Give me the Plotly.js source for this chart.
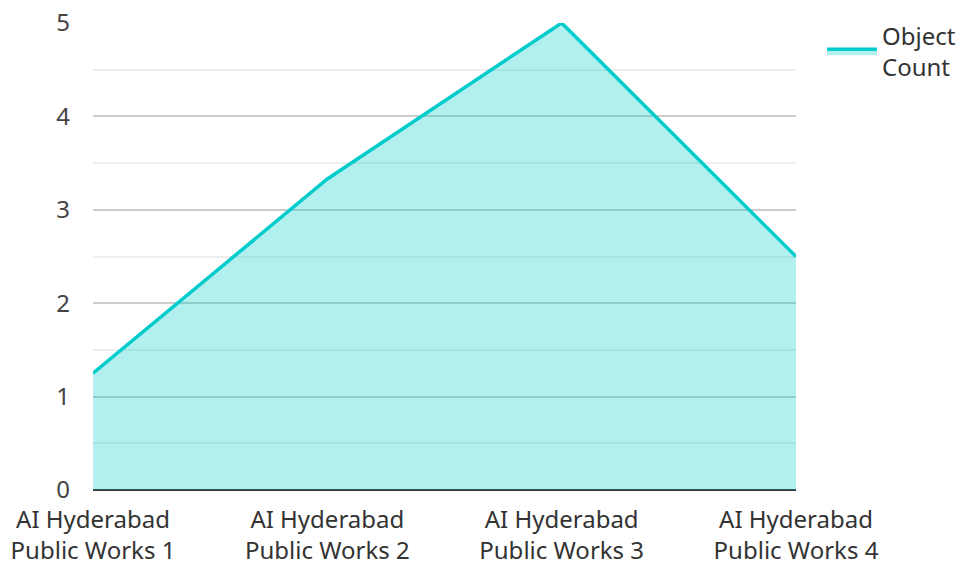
<!DOCTYPE html>
<html><head><meta charset="utf-8">
<script src="https://cdn.plot.ly/plotly-3.0.1.min.js"></script>
<style>body{margin:0}#c{width:959px;height:562px}</style>
</head><body><div id="c"></div>
<script>
const categories = ["AI Hyderabad<br>Public Works 1","AI Hyderabad<br>Public Works 2","AI Hyderabad<br>Public Works 3","AI Hyderabad<br>Public Works 4"];
const objectCount = [1.25, 3.33, 5, 2.5];
const yTicks = [0,1,2,3,4,5];

Plotly.newPlot('c', [{
  x: categories, y: objectCount, type: 'scatter', mode: 'lines',
  name: 'Object<br>Count', fill: 'tozeroy',
  line: {color: '#00cccc', width: 3.5},
  fillcolor: 'rgba(0,204,204,0.3)',
  cliponaxis: false
}], {
  width: 959, height: 562,
  margin: {l: 93, r: 163, t: 23, b: 72, autoexpand: false},
  paper_bgcolor: '#fff', plot_bgcolor: '#fff',
  font: {family: 'Noto Sans', size: 24, color: '#444'},
  showlegend: true,
  legend: {x: 1.037, y: 1.02, xanchor: 'left', yanchor: 'top', itemwidth: 50, font: {size: 24, color: '#333'}},
  xaxis: {type: 'category', range: [0, 3], showgrid: false, ticks: '', ticklabelstandoff: 13, tickfont: {size: 24, color: '#333'}, fixedrange: true, automargin: false},
  yaxis: {range: [0, 5], tickvals: yTicks, showgrid: true, gridcolor: '#cccccc', gridwidth: 2,
    minor: {dtick: 0.5, showgrid: true, gridcolor: '#eeeeee', gridwidth: 2},
    zeroline: true, zerolinecolor: '#333', zerolinewidth: 2, ticklabelstandoff: 22,
    tickfont: {size: 24, color: '#444'}, automargin: false}
}, {displayModeBar: false});
</script></body></html>
